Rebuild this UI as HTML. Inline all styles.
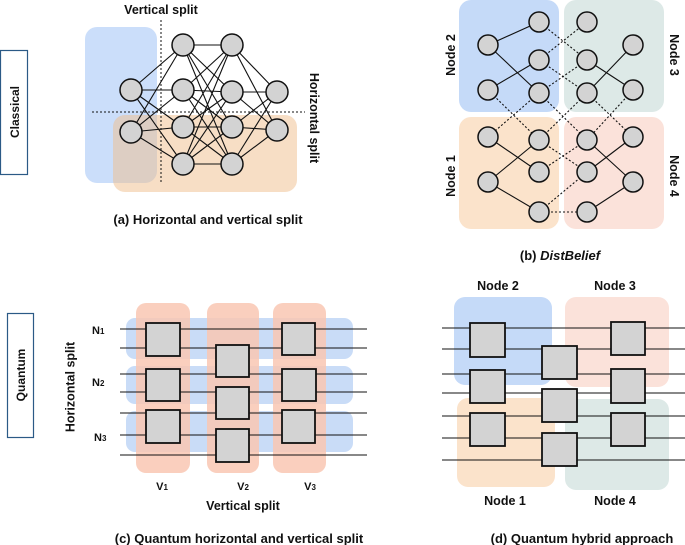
<!DOCTYPE html>
<html><head><meta charset="utf-8"><style>
html,body{margin:0;padding:0;background:#fff;}
svg{display:block;}
text{font-family:"Liberation Sans",Arial,sans-serif;font-weight:bold;fill:#111;}
</style></head><body>
<svg width="685" height="545" viewBox="0 0 685 545" xmlns="http://www.w3.org/2000/svg">
<rect x="0.5" y="50.5" width="27" height="124" fill="#fff" stroke="#2b5a86" stroke-width="1.2"/>
<text transform="translate(19,112) rotate(-90)" font-size="12" text-anchor="middle">Classical</text>
<rect x="7.5" y="313.5" width="26" height="124" fill="#fff" stroke="#2b5a86" stroke-width="1.2"/>
<text transform="translate(25,375) rotate(-90)" font-size="12" text-anchor="middle">Quantum</text>

<!-- (a) -->
<rect x="85" y="27" width="72" height="156" rx="12" fill="rgb(160,195,245)" fill-opacity="0.55"/>
<rect x="113" y="115" width="184" height="77" rx="12" fill="rgb(240,190,140)" fill-opacity="0.5"/>
<text x="161" y="14" font-size="12.5" text-anchor="middle">Vertical split</text>
<line x1="161" y1="20" x2="161" y2="183" stroke="#111" stroke-dasharray="2,2"/>
<line x1="92" y1="112" x2="305" y2="112" stroke="#111" stroke-dasharray="2,2"/>
<text transform="translate(310,118) rotate(90)" font-size="12.5" text-anchor="middle">Horizontal split</text>
<g stroke="#111" stroke-width="1.1">
<line x1="131" y1="90" x2="183" y2="45"/><line x1="131" y1="90" x2="183" y2="90"/><line x1="131" y1="90" x2="183" y2="127"/><line x1="131" y1="90" x2="183" y2="164"/>
<line x1="131" y1="132" x2="183" y2="45"/><line x1="131" y1="132" x2="183" y2="90"/><line x1="131" y1="132" x2="183" y2="127"/><line x1="131" y1="132" x2="183" y2="164"/>
<line x1="183" y1="45" x2="232" y2="45"/><line x1="183" y1="45" x2="232" y2="92"/><line x1="183" y1="45" x2="232" y2="127"/><line x1="183" y1="45" x2="232" y2="164"/>
<line x1="183" y1="90" x2="232" y2="45"/><line x1="183" y1="90" x2="232" y2="92"/><line x1="183" y1="90" x2="232" y2="127"/><line x1="183" y1="90" x2="232" y2="164"/>
<line x1="183" y1="127" x2="232" y2="45"/><line x1="183" y1="127" x2="232" y2="92"/><line x1="183" y1="127" x2="232" y2="127"/><line x1="183" y1="127" x2="232" y2="164"/>
<line x1="183" y1="164" x2="232" y2="45"/><line x1="183" y1="164" x2="232" y2="92"/><line x1="183" y1="164" x2="232" y2="127"/><line x1="183" y1="164" x2="232" y2="164"/>
<line x1="232" y1="45" x2="277" y2="92"/><line x1="232" y1="45" x2="277" y2="130"/>
<line x1="232" y1="92" x2="277" y2="92"/><line x1="232" y1="92" x2="277" y2="130"/>
<line x1="232" y1="127" x2="277" y2="92"/><line x1="232" y1="127" x2="277" y2="130"/>
<line x1="232" y1="164" x2="277" y2="92"/><line x1="232" y1="164" x2="277" y2="130"/>
</g>
<g fill="#d3d3d3" stroke="#111" stroke-width="1.5">
<circle cx="131" cy="90" r="11"/><circle cx="131" cy="132" r="11"/>
<circle cx="183" cy="45" r="11"/><circle cx="183" cy="90" r="11"/><circle cx="183" cy="127" r="11"/><circle cx="183" cy="164" r="11"/>
<circle cx="232" cy="45" r="11"/><circle cx="232" cy="92" r="11"/><circle cx="232" cy="127" r="11"/><circle cx="232" cy="164" r="11"/>
<circle cx="277" cy="92" r="11"/><circle cx="277" cy="130" r="11"/>
</g>
<text x="208" y="224" font-size="13" text-anchor="middle">(a) Horizontal and vertical split</text>

<!-- (b) -->
<rect x="459" y="0" width="100" height="112" rx="12" fill="#c5daf8"/>
<rect x="564" y="0" width="100" height="112" rx="12" fill="#dde9e7"/>
<rect x="459" y="117" width="100" height="112" rx="12" fill="#fbe3cb"/>
<rect x="564" y="117" width="100" height="112" rx="12" fill="#fbe2da"/>
<text transform="translate(455,55) rotate(-90)" font-size="12.5" text-anchor="middle">Node 2</text>
<text transform="translate(670,55) rotate(90)" font-size="12.5" text-anchor="middle">Node 3</text>
<text transform="translate(455,176) rotate(-90)" font-size="12.5" text-anchor="middle">Node 1</text>
<text transform="translate(670,176) rotate(90)" font-size="12.5" text-anchor="middle">Node 4</text>
<g stroke="#111" stroke-width="1.1">
<line x1="488" y1="45" x2="539" y2="22"/><line x1="488" y1="45" x2="539" y2="93"/><line x1="488" y1="90" x2="539" y2="60"/>
<line x1="587" y1="60" x2="633" y2="90"/><line x1="587" y1="93" x2="633" y2="45"/>
<line x1="488" y1="137" x2="539" y2="172"/><line x1="488" y1="182" x2="539" y2="140"/><line x1="488" y1="182" x2="539" y2="212"/>
<line x1="587" y1="172" x2="633" y2="137"/><line x1="587" y1="212" x2="633" y2="182"/><line x1="587" y1="140" x2="633" y2="182"/>
</g>
<g stroke="#111" stroke-width="1.1" stroke-dasharray="2,2">
<line x1="539" y1="22" x2="587" y2="60"/><line x1="539" y1="60" x2="587" y2="22"/>
<line x1="539" y1="60" x2="587" y2="93"/><line x1="539" y1="93" x2="587" y2="60"/>
<line x1="539" y1="93" x2="587" y2="140"/><line x1="488" y1="90" x2="539" y2="140"/>
<line x1="539" y1="93" x2="488" y2="137"/><line x1="539" y1="140" x2="587" y2="93"/>
<line x1="587" y1="93" x2="633" y2="137"/><line x1="633" y1="90" x2="587" y2="140"/>
<line x1="539" y1="140" x2="587" y2="172"/><line x1="539" y1="172" x2="587" y2="140"/>
<line x1="539" y1="212" x2="587" y2="172"/><line x1="539" y1="212" x2="587" y2="212"/>
</g>
<g fill="#d3d3d3" stroke="#111" stroke-width="1.5">
<circle cx="488" cy="45" r="10"/><circle cx="488" cy="90" r="10"/><circle cx="488" cy="137" r="10"/><circle cx="488" cy="182" r="10"/>
<circle cx="539" cy="22" r="10"/><circle cx="539" cy="60" r="10"/><circle cx="539" cy="93" r="10"/><circle cx="539" cy="140" r="10"/><circle cx="539" cy="172" r="10"/><circle cx="539" cy="212" r="10"/>
<circle cx="587" cy="22" r="10"/><circle cx="587" cy="60" r="10"/><circle cx="587" cy="93" r="10"/><circle cx="587" cy="140" r="10"/><circle cx="587" cy="172" r="10"/><circle cx="587" cy="212" r="10"/>
<circle cx="633" cy="45" r="10"/><circle cx="633" cy="90" r="10"/><circle cx="633" cy="137" r="10"/><circle cx="633" cy="182" r="10"/>
</g>
<text x="560" y="260" font-size="13" text-anchor="middle">(b) <tspan font-style="italic">DistBelief</tspan></text>

<!-- (c) -->
<g fill="#c9dcf7">
<rect x="126" y="318" width="227" height="41" rx="9"/>
<rect x="126" y="366" width="227" height="38" rx="9"/>
<rect x="126" y="411" width="227" height="41" rx="9"/>
</g>
<g fill="#f9c7b3" fill-opacity="0.85">
<rect x="136" y="303" width="54" height="170" rx="10"/>
<rect x="207" y="303" width="52" height="170" rx="10"/>
<rect x="273" y="303" width="53" height="170" rx="10"/>
</g>
<text x="71" y="387" transform="rotate(-90 71 387)" font-size="12.5" text-anchor="middle" dominant-baseline="middle">Horizontal split</text>
<text x="92" y="334" font-size="11">N<tspan font-size="8">1</tspan></text>
<text x="92" y="386" font-size="11">N<tspan font-size="8">2</tspan></text>
<text x="94" y="441" font-size="11">N<tspan font-size="8">3</tspan></text>
<g stroke="#111" stroke-width="1.1">
<line x1="120" y1="329" x2="367" y2="329"/><line x1="120" y1="348" x2="367" y2="348"/>
<line x1="120" y1="374" x2="367" y2="374"/><line x1="120" y1="392" x2="367" y2="392"/>
<line x1="120" y1="413" x2="367" y2="413"/><line x1="120" y1="435" x2="367" y2="435"/>
<line x1="120" y1="455" x2="367" y2="455"/>
</g>
<g fill="#d3d3d3" stroke="#111" stroke-width="1.8">
<rect x="146" y="323" width="34" height="33"/><rect x="146" y="369" width="34" height="32"/><rect x="146" y="410" width="34" height="33"/>
<rect x="216" y="345" width="33" height="32"/><rect x="216" y="387" width="33" height="32"/><rect x="216" y="429" width="33" height="33"/>
<rect x="282" y="323" width="33" height="32"/><rect x="282" y="369" width="34" height="32"/><rect x="282" y="410" width="33" height="33"/>
</g>
<text x="162" y="490" font-size="11" text-anchor="middle">V<tspan font-size="8">1</tspan></text>
<text x="243" y="490" font-size="11" text-anchor="middle">V<tspan font-size="8">2</tspan></text>
<text x="310" y="490" font-size="11" text-anchor="middle">V<tspan font-size="8">3</tspan></text>
<text x="243" y="510" font-size="12.5" text-anchor="middle">Vertical split</text>
<text x="239" y="543" font-size="13" text-anchor="middle">(c) Quantum horizontal and vertical split</text>

<!-- (d) -->
<rect x="454" y="297" width="98" height="88" rx="11" fill="#c5daf8"/>
<rect x="565" y="297" width="104" height="90" rx="11" fill="#fbe2da"/>
<rect x="457" y="398" width="98" height="89" rx="11" fill="#fbe3cb"/>
<rect x="565" y="399" width="104" height="91" rx="11" fill="#dde9e7"/>
<text x="498" y="290" font-size="12.5" text-anchor="middle">Node 2</text>
<text x="615" y="290" font-size="12.5" text-anchor="middle">Node 3</text>
<text x="505" y="505" font-size="12.5" text-anchor="middle">Node 1</text>
<text x="615" y="505" font-size="12.5" text-anchor="middle">Node 4</text>
<g stroke="#111" stroke-width="1.1">
<line x1="442" y1="328" x2="685" y2="328"/><line x1="442" y1="349" x2="685" y2="349"/>
<line x1="442" y1="374" x2="685" y2="374"/><line x1="442" y1="393" x2="685" y2="393"/>
<line x1="442" y1="416" x2="685" y2="416"/><line x1="442" y1="438" x2="685" y2="438"/>
<line x1="442" y1="460" x2="685" y2="460"/>
</g>
<g fill="#d3d3d3" stroke="#111" stroke-width="1.8">
<rect x="470" y="323" width="35" height="34"/><rect x="470" y="370" width="35" height="33"/><rect x="470" y="413" width="35" height="33"/>
<rect x="542" y="346" width="35" height="33"/><rect x="542" y="389" width="35" height="33"/><rect x="542" y="433" width="35" height="33"/>
<rect x="611" y="322" width="34" height="33"/><rect x="611" y="369" width="34" height="34"/><rect x="611" y="413" width="34" height="33"/>
</g>
<text x="582" y="543" font-size="13" text-anchor="middle">(d) Quantum hybrid approach</text>
</svg>
</body></html>
